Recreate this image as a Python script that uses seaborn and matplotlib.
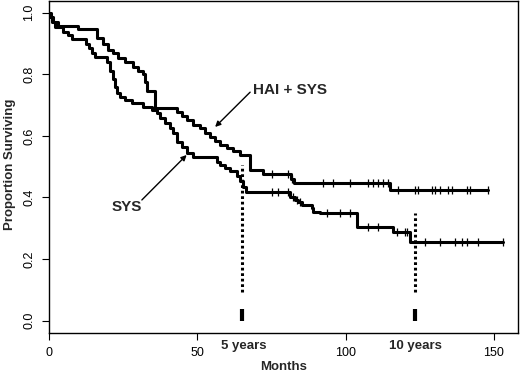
import numpy as np
import pandas as pd
import seaborn as sns
import matplotlib.pyplot as plt

# Kaplan-Meier step data (months, proportion surviving)
hai_times = [0.8, 1.5, 3.0, 9.8, 16.2, 18.2, 19.9, 21.6, 23.3, 25.6, 28.3, 30.0, 31.7, 32.4,
             33.0, 35.7, 43.2, 44.8, 46.5, 48.5, 50.9, 52.6, 54.3, 56.0, 57.7, 60.0, 62.0,
             64.4, 67.8, 72.3, 81.5, 82.5, 115.0]
hai_surv = [0.985, 0.97, 0.958, 0.947, 0.918, 0.90, 0.88, 0.87, 0.853, 0.84, 0.823, 0.81,
            0.80, 0.775, 0.745, 0.69, 0.677, 0.665, 0.65, 0.637, 0.625, 0.61, 0.598, 0.585,
            0.572, 0.56, 0.55, 0.538, 0.489, 0.476, 0.46, 0.446, 0.425]
hai_censor = [75.1, 80.7, 81.8, 92.5, 95.9, 101.5, 107.7, 109.3, 111.0, 112.7, 114.4, 117.8,
              123.4, 124.5, 129.0, 130.1, 131.8, 134.6, 135.8, 140.8, 142.0, 148.0]

sys_times = [0.4, 1.0, 2.0, 4.7, 6.4, 7.8, 12.5, 13.5, 14.5, 15.5, 19.6, 20.6, 21.6, 22.3,
             22.9, 23.9, 25.6, 28.0, 31.7, 34.7, 36.4, 37.4, 39.1, 40.8, 41.8, 43.2, 44.8,
             46.5, 48.5, 56.6, 57.7, 59.3, 61.0, 63.4, 64.4, 65.4, 66.5, 81.3, 82.9, 84.1,
             85.2, 88.6, 89.1, 91.4, 103.8, 116.0, 121.7]
sys_surv = [0.985, 0.97, 0.955, 0.937, 0.926, 0.914, 0.90, 0.885, 0.869, 0.855, 0.84, 0.81,
            0.785, 0.76, 0.74, 0.726, 0.716, 0.706, 0.694, 0.684, 0.674, 0.658, 0.642, 0.626,
            0.609, 0.58, 0.564, 0.545, 0.531, 0.515, 0.505, 0.495, 0.485, 0.47, 0.455, 0.434,
            0.418, 0.403, 0.392, 0.386, 0.376, 0.365, 0.354, 0.349, 0.305, 0.289, 0.256]
sys_censor = [75.1, 77.3, 80.7, 82.4, 83.5, 84.6, 93.6, 98.1, 101.5, 107.7, 111.0, 117.2,
              120.0, 120.6, 126.8, 131.8, 136.9, 139.1, 140.8, 144.7, 153.0]

# landmark lines as drawn in the figure
landmarks = [65.2, 123.3]
landmark_labels = ["5 years", "10 years"]
landmark_tops = [0.505, 0.349]


def km_frame(times, surv, censor):
    t = [0.0] + list(times) + [max(censor)]
    s = [1.0] + list(surv) + [surv[-1]]
    return pd.DataFrame({"t": t, "s": s})


def surv_at(x, times, surv):
    t = np.array([0.0] + list(times))
    s = np.array([1.0] + list(surv))
    idx = np.searchsorted(t, x, side="right") - 1
    return s[idx]


sns.set_style("white")
plt.rcParams["font.family"] = ["Liberation Sans", "DejaVu Sans"]

fig = plt.figure(figsize=(5.2, 3.72), dpi=100)
ax = fig.add_axes([49 / 520, 1 - 332.7 / 372, 469 / 520, 331.7 / 372])

for times, surv, censor in [(hai_times, hai_surv, hai_censor), (sys_times, sys_surv, sys_censor)]:
    df = km_frame(times, surv, censor)
    sns.lineplot(data=df, x="t", y="s", drawstyle="steps-post", estimator=None, sort=False,
                 color="black", linewidth=2.2, ax=ax)
    cdf = pd.DataFrame({"t": censor, "s": surv_at(np.array(censor), times, surv)})
    sns.scatterplot(data=cdf, x="t", y="s", marker="|", s=40, linewidth=0.9,
                    color="black", ax=ax, zorder=3)

for x, top, lab in zip(landmarks, landmark_tops, landmark_labels):
    ax.vlines(x, 0.094, top, colors="black", linewidth=2.2, linestyles=(0, (0.9, 0.9)))
    ax.vlines(x, 0.0, 0.037, colors="black", linewidth=3.0)
    ax.text(x + 0.3, -0.0386, lab, transform=ax.get_xaxis_transform(), ha="center",
            va="center", fontsize=9.5, fontweight="bold")

ax.annotate("", xy=(56.0, 0.629), xytext=(67.8, 0.742),
            arrowprops=dict(arrowstyle="-|>", color="black", lw=1, mutation_scale=8,
                            shrinkA=0, shrinkB=0))
ax.text(68.8, 0.749, "HAI + SYS", ha="left", va="center", fontsize=11, fontweight="bold")
ax.annotate("", xy=(46.4, 0.538), xytext=(31.3, 0.392),
            arrowprops=dict(arrowstyle="-|>", color="black", lw=1, mutation_scale=8,
                            shrinkA=0, shrinkB=0))
ax.text(26.2, 0.368, "SYS", ha="center", va="center", fontsize=11, fontweight="bold")

ax.set_xlim(0, 158.1)
ax.set_ylim(-0.039, 1.038)
ax.set_xticks([0, 50, 100, 150])
ax.set_xticklabels(["0", "50", "100", "150"])
ax.set_yticks([0.0, 0.2, 0.4, 0.6, 0.8, 1.0])
ax.set_yticklabels(["0.0", "0.2", "0.4", "0.6", "0.8", "1.0"], rotation=90, va="center")
ax.tick_params(axis="both", direction="out", length=5, width=0.8, labelsize=9,
               bottom=True, left=True, colors="black")
ax.tick_params(axis="x", pad=5)
ax.tick_params(axis="y", pad=5)
for sp in ax.spines.values():
    sp.set_color("black")
    sp.set_linewidth(1.0)

ax.set_xlabel("Months", fontsize=9.5, fontweight="bold", va="top")
ax.xaxis.set_label_coords(0.5, -0.085)
ax.set_ylabel("Proportion Surviving", fontsize=9.5, fontweight="bold")
ax.yaxis.set_label_coords(-0.071, 0.509)

fig.savefig("out.png", dpi=100)
